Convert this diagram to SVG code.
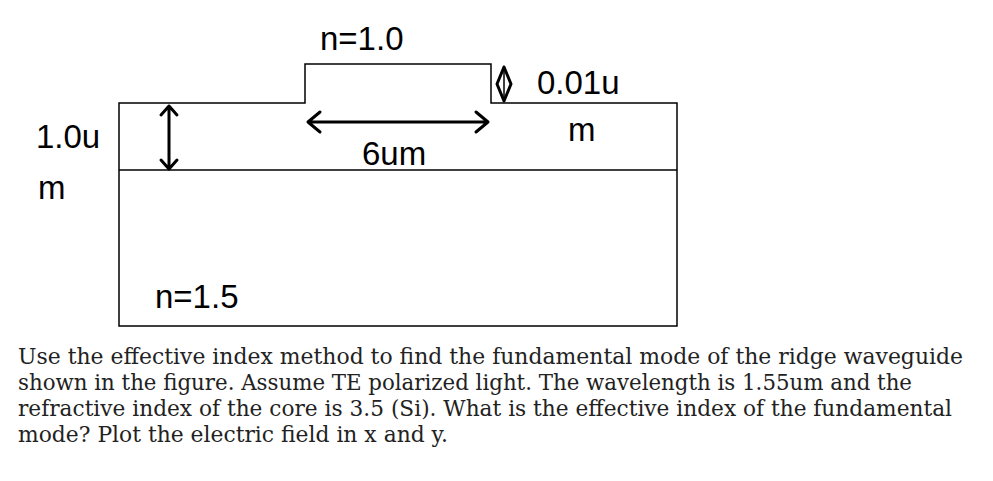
<svg xmlns="http://www.w3.org/2000/svg" width="993" height="481" viewBox="0 0 993 481">
<style>
.s{font-family:"Liberation Sans",Arial,sans-serif;font-size:33px;fill:#000}
.p{font-family:"DejaVu Serif","Liberation Serif",serif;font-size:21.5px;fill:#222}
.o{fill:none;stroke:#000;stroke-width:1.5}
.a{fill:none;stroke:#000;stroke-width:3;stroke-linecap:round;stroke-linejoin:round}
</style>
<rect width="993" height="481" fill="#fff"/>
<g id="structure">
<path class="o" d="M119 326V103H305V64H491V103H677V326Z"/>
<line class="o" x1="119" y1="170" x2="677" y2="170"/>
</g>
<g id="connectors">
<path class="a" stroke-width="2" d="M169 106V169M161 115L169 106L177 115M161 160L169 169L177 160"/>
<path class="a" d="M308 122H488M320 112L308 122L320 132M476 112L488 122L476 132"/>
<path class="a" d="M504 67L497 84L504 101L511 84Z"/>
<line x1="504" y1="67" x2="504" y2="101" stroke="#000" stroke-width="1.5"/>
</g>
<g id="labels">
<text class="s" x="320" y="50">n=1.0</text>
<text class="s" x="537" y="94">0.01u</text>
<text class="s" x="568" y="141">m</text>
<text class="s" x="362" y="165">6um</text>
<text class="s" x="36" y="148">1.0u</text>
<text class="s" x="38" y="199">m</text>
<text class="s" x="155" y="308">n=1.5</text>
</g>
<g id="question">
<text class="p" x="18" y="364" textLength="945" lengthAdjust="spacingAndGlyphs">Use the effective index method to find the fundamental mode of the ridge waveguide</text>
<text class="p" x="18" y="390" textLength="894" lengthAdjust="spacingAndGlyphs">shown in the figure. Assume TE polarized light. The wavelength is 1.55um and the</text>
<text class="p" x="18" y="416" textLength="934" lengthAdjust="spacingAndGlyphs">refractive index of the core is 3.5 (Si). What is the effective index of the fundamental</text>
<text class="p" x="18" y="442" textLength="430" lengthAdjust="spacingAndGlyphs">mode? Plot the electric field in x and y.</text>
</g>
</svg>
